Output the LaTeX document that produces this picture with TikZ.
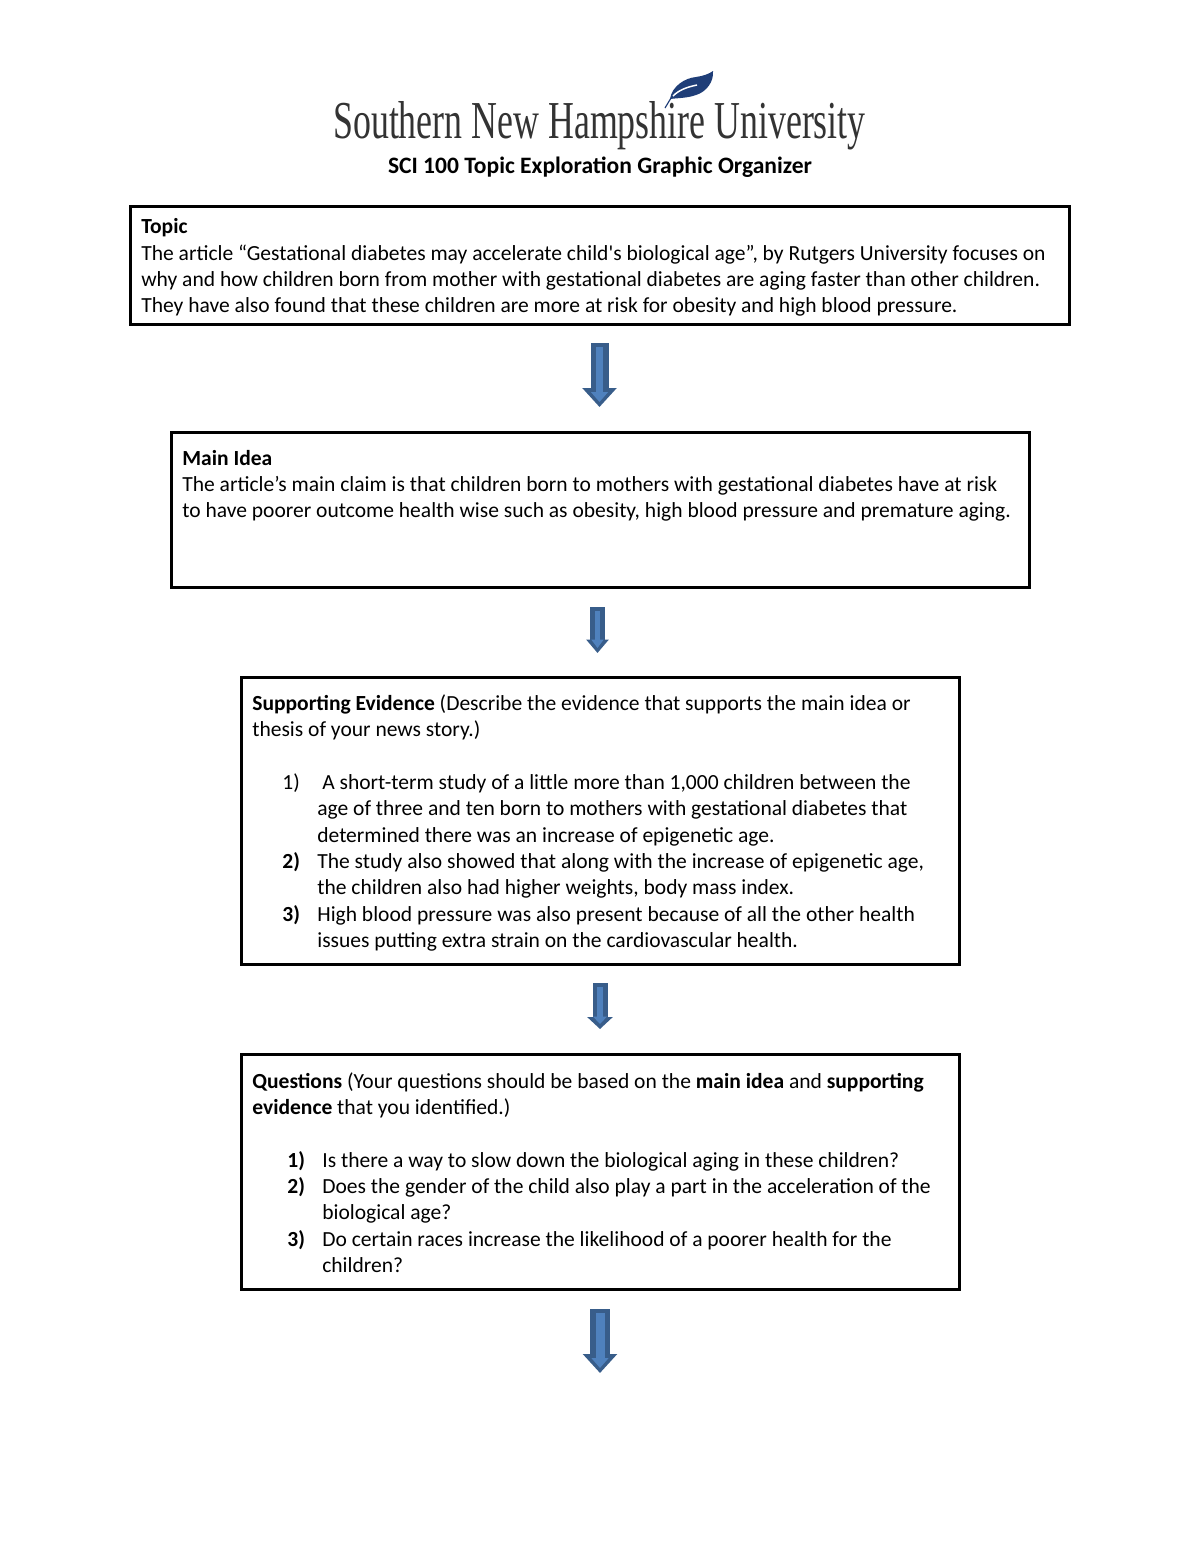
\documentclass[tikz,border=0pt]{standalone}
\usepackage{fontspec}
\setmainfont[Ligatures=TeXOff]{Carlito}
\newfontfamily\logofont{Liberation Serif}
\usetikzlibrary{arrows.meta, positioning}

\definecolor{arrowdark}{HTML}{385D8A}
\definecolor{arrowblue}{HTML}{4F81BD}
\definecolor{leafblue}{HTML}{1F3E78}
\definecolor{logogray}{HTML}{333333}

\newcommand{\numline}[3]{\hspace*{#1}\makebox[21pt][l]{\textbf{#2}}#3}
\newcommand{\contline}[2]{\hspace*{#1}\hspace*{21pt}#2}

\begin{document}
\begin{tikzpicture}[
    x=0.6pt, y=-0.6pt,
    box/.style={rectangle, draw, line width=1.8pt, outer sep=0pt, align=left, inner sep=0pt, font=\fontsize{12.92}{15.78}\selectfont, anchor=north west},
    title/.style={font=\bfseries\fontsize{14.13}{17}\selectfont},
    logo/.style={font=\logofont\fontsize{32}{34}\selectfont, text=logogray, inner sep=0pt, anchor=base},
    arrowout/.style={arrowdark, line width=10.8pt, -{Triangle[width=20pt, length=11.4pt]}},
    arrowin/.style={arrowblue, line width=4.4pt, -{Triangle[width=10pt, length=6pt]}}
]

\fill[white] (0,0) rectangle (1200,1553);
\useasboundingbox (0,0) rectangle (1200,1553);

% heading
\node[logo] (logotext) at (599.5,138) {\scalebox{.672}[1]{Southern New Hampshire University}};
\node[title] (heading) at (600,167) {SCI 100 Topic Exploration Graphic Organizer};
\fill[leafblue] (670,99) .. controls (672,86) and (685,78) .. (696,77) .. controls (703,76) and (709,74) .. (713,71) .. controls (714,82) and (706,92) .. (696,95) .. controls (688,98) and (678,98) .. (670,99) -- cycle;
\draw[leafblue, line width=.7pt] (665,108) -- (671,98);
\draw[white, line width=.9pt] (673,96) .. controls (679,90) and (687,87) .. (697,85);

% boxes
\node[box, minimum width=563.4pt, minimum height=70.8pt] (topic) at (130,206) {%
\begin{minipage}{549.8pt}
\vspace*{3pt}\textbf{Topic}\\
The article “Gestational diabetes may accelerate child's biological age”, by Rutgers University focuses on\\
why and how children born from mother with gestational diabetes are aging faster than other children.\\
They have also found that these children are more at risk for obesity and high blood pressure.
\end{minipage}};

\node[box, minimum width=514.8pt, minimum height=93pt] (main) at (171,432) {%
\begin{minipage}{501.2pt}
\textbf{Main Idea}\\
The article’s main claim is that children born to mothers with gestational diabetes have at risk\\
to have poorer outcome health wise such as obesity, high blood pressure and premature aging.\\[15pt]
\end{minipage}};

\node[box, minimum width=430.8pt, minimum height=172.2pt] (evidence) at (241,677) {%
\begin{minipage}{417.2pt}
\vspace*{3pt}\textbf{Supporting Evidence} (Describe the evidence that supports the main idea or\\
thesis of your news story.)\\[15.8pt]
\numline{18pt}{\mdseries 1)}{\hspace*{3pt}A short-term study of a little more than 1,000 children between the}\\
\contline{18pt}{age of three and ten born to mothers with gestational diabetes that}\\
\contline{18pt}{determined there was an increase of epigenetic age.}\\
\numline{18pt}{2)}{The study also showed that along with the increase of epigenetic age,}\\
\contline{18pt}{the children also had higher weights, body mass index.}\\
\numline{18pt}{3)}{High blood pressure was also present because of all the other health}\\
\contline{18pt}{issues putting extra strain on the cardiovascular health.}
\end{minipage}};

\node[box, minimum width=430.8pt, minimum height=141pt] (questions) at (241,1054) {%
\begin{minipage}{417.2pt}
\vspace*{1.2pt}\textbf{Questions} (Your questions should be based on the \textbf{main idea} and \textbf{supporting}\\
\textbf{evidence} that you identified.)\\[15.8pt]
\numline{21pt}{1)}{Is there a way to slow down the biological aging in these children?}\\
\numline{21pt}{2)}{Does the gender of the child also play a part in the acceleration of the}\\
\contline{21pt}{biological age?}\\
\numline{21pt}{3)}{Do certain races increase the likelihood of a poorer health for the}\\
\contline{21pt}{children?}
\end{minipage}};

\coordinate[below=52.2pt of questions.south] (page end);

% arrows between boxes
\draw[arrowout, shorten <=11.4pt, shorten >=15pt] (topic.south) -- (topic.south |- main.north);
\draw[arrowin, shorten <=13.8pt, shorten >=18pt] (topic.south) -- (topic.south |- main.north);
\draw[arrowout, line width=9pt, shorten <=12pt, shorten >=14.4pt, -{Triangle[width=13pt, length=8pt]}] ([xshift=-1.5pt]main.south) -- ([xshift=-1.5pt]main.south |- evidence.north);
\draw[arrowin, line width=3.2pt, shorten <=14.4pt, shorten >=17.4pt, -{Triangle[width=7pt, length=5pt]}] ([xshift=-1.5pt]main.south) -- ([xshift=-1.5pt]main.south |- evidence.north);
\draw[arrowout, line width=9pt, shorten <=11.4pt, shorten >=15pt, -{Triangle[width=15pt, length=7.2pt]}] (evidence.south) -- (questions.north);
\draw[arrowin, line width=3.6pt, shorten <=13.8pt, shorten >=18pt, -{Triangle[width=8pt, length=4.4pt]}] (evidence.south) -- (questions.north);
\draw[arrowout, line width=12pt, shorten <=12pt, shorten >=1.8pt] (questions.south) -- (page end);
\draw[arrowin, line width=5.4pt, shorten <=14.4pt, shorten >=4.8pt] (questions.south) -- (page end);

\end{tikzpicture}
\end{document}
